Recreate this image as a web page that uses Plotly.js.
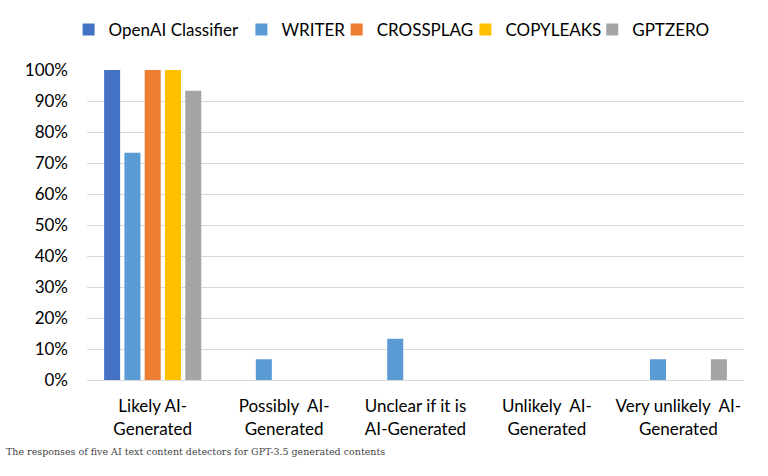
<!DOCTYPE html>
<html>
<head>
<meta charset="utf-8">
<script src="https://cdn.plot.ly/plotly-3.0.1.min.js"></script>
<style>
  html, body { margin: 0; padding: 0; background: #fff; }
  #plt { width: 768px; height: 476px; }
</style>
</head>
<body>
<div id="plt"></div>
<script>
var categories = ['Likely AI-<br>Generated', 'Possibly  AI-<br>Generated', 'Unclear if it is<br>AI-Generated', 'Unlikely  AI-<br>Generated', 'Very unlikely  AI-<br>Generated'];
var seriesNames = ['OpenAI Classifier', 'WRITER', 'CROSSPLAG', 'COPYLEAKS', 'GPTZERO'];
var openai = [1.00, 0, 0, 0, 0];
var writer = [0.733, 0.067, 0.133, 0, 0.067];
var crossplag = [1.00, 0, 0, 0, 0];
var copyleaks = [1.00, 0, 0, 0, 0];
var gptzero = [0.933, 0, 0, 0, 0.067];
var colors = ['#4472C4', '#5B9BD5', '#ED7D31', '#FFC000', '#A5A5A5'];

// one legend per series so each entry can sit where the original has it
var legendX = [-0.028, 0.235, 0.380, 0.576, 0.769];

function plot(){
    let gd = document.getElementById('plt');
    let values = [openai, writer, crossplag, copyleaks, gptzero];
    let legendIds = ['legend', 'legend2', 'legend3', 'legend4', 'legend5'];

    let d = values.map((v, i) => ({
        type: 'bar',
        name: seriesNames[i],
        x: categories,
        y: v,
        legend: legendIds[i],
        marker: {color: colors[i]},
        hoverinfo: 'y+name'
    }));

    let l = {
        width: 768,
        height: 476,
        margin: {l: 87, r: 24, t: 70, b: 96, autoexpand: false},
        paper_bgcolor: '#fff',
        plot_bgcolor: '#fff',
        font: {family: 'Lato, Carlito, sans-serif', color: '#000', size: 16},
        barmode: 'group',
        bargap: 0.228,
        bargroupgap: 0.21,
        showlegend: true,
        xaxis: {
            showgrid: false,
            showline: true,
            linecolor: '#d9d9d9',
            linewidth: 1,
            ticks: '',
            tickfont: {size: 17},
            ticklabelstandoff: 11,
            fixedrange: true
        },
        yaxis: {
            range: [0, 1.0],
            dtick: 0.1,
            tickformat: '.0%',
            showgrid: true,
            gridcolor: '#d9d9d9',
            zeroline: false,
            showline: false,
            ticks: '',
            tickfont: {size: 17},
            ticklabelstandoff: 18,
            fixedrange: true
        },
        annotations: [{
            xref: 'paper', yref: 'paper',
            x: -0.126, y: -0.232,
            xanchor: 'left', yanchor: 'middle',
            showarrow: false,
            text: 'The responses of five AI text content detectors for GPT-3.5 generated contents',
            font: {family: 'DejaVu Serif, Liberation Serif, serif', size: 9.5, color: '#444'}
        }]
    };

    legendIds.forEach((id, i) => {
        l[id] = {
            orientation: 'h',
            x: legendX[i], xanchor: 'left',
            y: 1.129, yanchor: 'middle',
            font: {size: 17},
            itemwidth: 30,
            bgcolor: 'rgba(0,0,0,0)'
        };
    });

    let c = {
        displayModeBar: false
    };

    Plotly.newPlot(gd, d, l, c);
}

plot();
</script>
</body>
</html>
